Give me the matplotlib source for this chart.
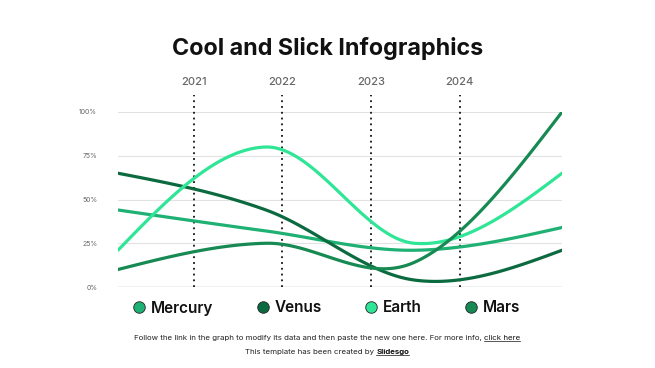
import numpy as np
import matplotlib.pyplot as plt
from matplotlib.lines import Line2D

plt.rcParams['font.family'] = ['Inter', 'DejaVu Sans']

# data
points = [0, 1, 2, 3]
mercury = [44, 32, 21, 34]
venus = [65, 44, 4, 21]
earth = [21, 80, 25, 65]
mars = [10, 25, 14, 100]
series_names = ['Mercury', 'Venus', 'Earth', 'Mars']
colors = ['#1fb174', '#0c6a40', '#2fe596', '#168a52']
years = ['2021', '2022', '2023', '2024']
year_pos = [0.515, 1.11, 1.71, 2.31]
yticks = [0, 25, 50, 75, 100]


def smooth(xs, ys, n=40):
    # catmull-rom style curve through the points
    xs = np.array(xs, float)
    ys = np.array(ys, float)
    m = np.zeros(len(ys))
    m[1:-1] = (ys[2:] - ys[:-2]) / (xs[2:] - xs[:-2])
    m[0] = ys[1] - ys[0] - 0.5 * (m[1] - (ys[1] - ys[0]))
    m[-1] = ys[-1] - ys[-2] - 0.5 * (m[-2] - (ys[-1] - ys[-2]))
    ox, oy = [], []
    for i in range(len(xs) - 1):
        h = xs[i + 1] - xs[i]
        t = np.linspace(0, 1, n)
        h00 = 2 * t**3 - 3 * t**2 + 1
        h10 = t**3 - 2 * t**2 + t
        h01 = -2 * t**3 + 3 * t**2
        h11 = t**3 - t**2
        ox.extend(xs[i] + t * h)
        oy.extend(h00 * ys[i] + h10 * h * m[i] + h01 * ys[i + 1] + h11 * h * m[i + 1])
    return ox, oy


fig = plt.figure(figsize=(6.55, 3.68), dpi=100)
ax = fig.add_axes([118 / 655, 81 / 368, 444 / 655, 175 / 368])

for y in yticks[1:]:
    ax.axhline(y, color='#e2e2e2', lw=0.8, zorder=0)
ax.axhline(0, color='#8a8a8a', lw=0.9, zorder=1)

for p, yr in zip(year_pos, years):
    ax.plot([p, p], [0, 110], color='#111111', lw=1.3, ls=(0, (1, 2.2)), clip_on=False, zorder=1)
    ax.text(p, 117, yr, ha='center', va='center', fontsize=8, color='#666666', fontweight='medium')

for name, vals, c in zip(series_names, [mercury, venus, earth, mars], colors):
    sx, sy = smooth(points, vals)
    ax.plot(sx, sy, color=c, lw=2.3, solid_capstyle='round', zorder=3)

ax.set_xlim(0, 3)
ax.set_ylim(0, 100)
ax.set_yticks(yticks)
ax.set_yticklabels([f'{v}%' for v in yticks], fontsize=5, color='#666666')
ax.tick_params(axis='y', length=0, pad=15)
ax.set_xticks([])
for s in ax.spines.values():
    s.set_visible(False)

fig.text(0.5, 1 - 48 / 368, 'Cool and Slick Infographics', ha='center', va='center',
         fontsize=16.8, fontweight='bold', color='#111111')

handles = [Line2D([], [], ls='none', marker='o', markersize=8.3, markerfacecolor=c,
                  markeredgecolor='#222222', markeredgewidth=0.6) for c in colors]
leg = fig.legend(handles, series_names, loc='center', bbox_to_anchor=(326 / 655, 1 - 308 / 368),
                 ncol=4, frameon=False, fontsize=11, columnspacing=2.75, handletextpad=0.25,
                 handlelength=1.0)
for t in leg.get_texts():
    t.set_fontweight('semibold')
    t.set_color('#111111')

fs = 5.65
t1 = fig.text(0.5, 1 - 338 / 368,
              'Follow the link in the graph to modify its data and then paste the new one here. For more info, ',
              ha='center', va='center', fontsize=fs, color='#222222')
t2 = fig.text(0.5, 1 - 352 / 368, 'This template has been created by ', ha='center', va='center',
              fontsize=fs, color='#222222')

fig.canvas.draw()
r = fig.canvas.get_renderer()


def place_pair(tleft, right_text, center_x, bold):
    bb = tleft.get_window_extent(r)
    tr = fig.text(0, tleft.get_position()[1], right_text, ha='left', va='center', fontsize=fs,
                  color='#111111', fontweight='bold' if bold else 'normal')
    bb2 = tr.get_window_extent(r)
    W = fig.bbox.width
    total = bb.width + bb2.width
    x0 = center_x * W - total / 2
    tleft.set_ha('left')
    tleft.set_x(x0 / W)
    tr.set_x((x0 + bb.width) / W)
    fig.canvas.draw()
    bb2 = tr.get_window_extent(r)
    uy = (bb2.y0 + 0.3) / fig.bbox.height
    fig.add_artist(Line2D([bb2.x0 / W, bb2.x1 / W], [uy, uy], color='#111111', lw=0.5,
                          transform=fig.transFigure))


place_pair(t1, 'click here', 327 / 655, False)
place_pair(t2, 'Slidesgo', 327 / 655, True)

fig.savefig('out.png', dpi=100, facecolor='white')
